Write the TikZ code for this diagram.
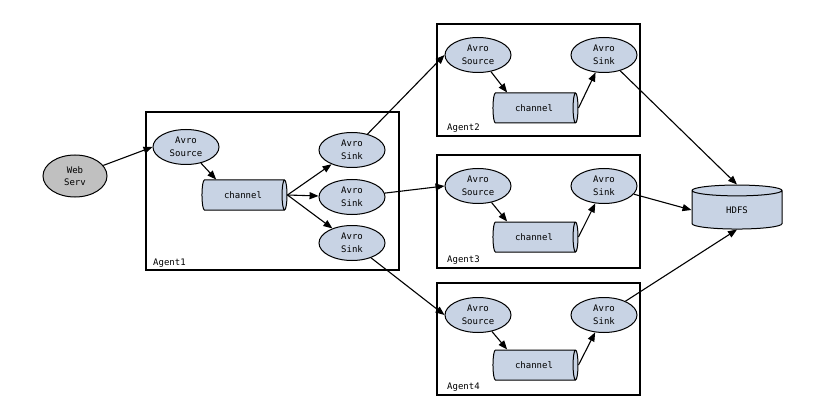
\documentclass[tikz,border=0pt]{standalone}
\usepackage{fontspec}
\setmonofont{DejaVu Sans Mono}
\usetikzlibrary{shapes.geometric,arrows.meta}
\definecolor{nodefill}{RGB}{200,211,228}
\definecolor{webfill}{RGB}{192,192,192}
\tikzset{
  every node/.style={font=\ttfamily\fontsize{9}{12.5}\selectfont},
  ell/.style={ellipse,draw,line width=1pt,fill=nodefill,minimum width=66pt,minimum height=35pt,inner sep=0pt,align=center},
  chan/.style={cylinder,draw,line width=1pt,fill=nodefill,minimum height=85pt,minimum width=30pt,aspect=0.7,inner sep=0pt},
  agentbox/.style={draw,line width=1.1pt,fill=white},
  lbl/.style={anchor=base west,inner sep=0pt},
  arr/.style={-{Triangle[length=9pt,width=7pt]},line width=1.1pt},
}
\begin{document}
\begin{tikzpicture}[x=1pt,y=-1pt]
\useasboundingbox (0,0) rectangle (816,406);
% boxes
\node[agentbox,minimum width=253pt,minimum height=158pt,inner sep=0pt] (box1) at (272.5,191) {};
\node[agentbox,minimum width=203pt,minimum height=112pt,inner sep=0pt] (box2) at (538.5,80) {};
\node[agentbox,minimum width=203pt,minimum height=113pt,inner sep=0pt] (box3) at (538.5,211.5) {};
\node[agentbox,minimum width=203pt,minimum height=112pt,inner sep=0pt] (box4) at (538.5,339) {};
\node[lbl] (l1) at (153,265) {Agent1};
\node[lbl] (l2) at (447,131) {Agent2};
\node[lbl] (l3) at (447,262) {Agent3};
\node[lbl] (l4) at (447,389) {Agent4};
% web
\node[ell,fill=webfill,minimum width=64pt,minimum height=42pt] (web) at (75,176) {Web\\Serv};
% agent1
\node[ell] (s1) at (186,147) {Avro\\Source};
\node[chan] (c1) at (243,195) {channel};
\node[ell] (k1) at (352,150) {Avro\\Sink};
\node[ell] (k2) at (352,197) {Avro\\Sink};
\node[ell] (k3) at (352,243) {Avro\\Sink};
% agent2
\node[ell] (s2) at (478,55) {Avro\\Source};
\node[chan] (c2) at (534,108) {channel};
\node[ell] (k4) at (604,55) {Avro\\Sink};
% agent3
\node[ell] (s3) at (478,186) {Avro\\Source};
\node[chan] (c3) at (534,237) {channel};
\node[ell] (k5) at (604,186) {Avro\\Sink};
% agent4
\node[ell] (s4) at (478,315) {Avro\\Source};
\node[chan] (c4) at (534,365) {channel};
\node[ell] (k6) at (604,315) {Avro\\Sink};
% hdfs
\node[cylinder,shape border rotate=90,draw,line width=1pt,fill=nodefill,minimum width=90pt,minimum height=44pt,aspect=0.5,inner sep=0pt] (hdfs) at (737,210) {HDFS};
% arrows
\draw[arr] (web) -- (s1.west);
\draw[arr] (s1) -- (c1.150);
\draw[arr] (c1.east) -- (k1);
\draw[arr] (c1.east) -- (k2);
\draw[arr] (c1.east) -- (k3);
\draw[arr] (k1) -- (s2.west);
\draw[arr] (k2) -- (s3.west);
\draw[arr] (k3) -- (s4.west);
\draw[arr] (s2) -- (c2.150);
\draw[arr] (c2.east) -- (k4);
\draw[arr] (s3) -- (c3.150);
\draw[arr] (c3.east) -- (k5);
\draw[arr] (s4) -- (c4.150);
\draw[arr] (c4.east) -- (k6);
\draw[arr] (k4) -- (hdfs.top);
\draw[arr] (k5) -- (hdfs.west);
\draw[arr] (k6) -- (hdfs.bottom);
\end{tikzpicture}
\end{document}
